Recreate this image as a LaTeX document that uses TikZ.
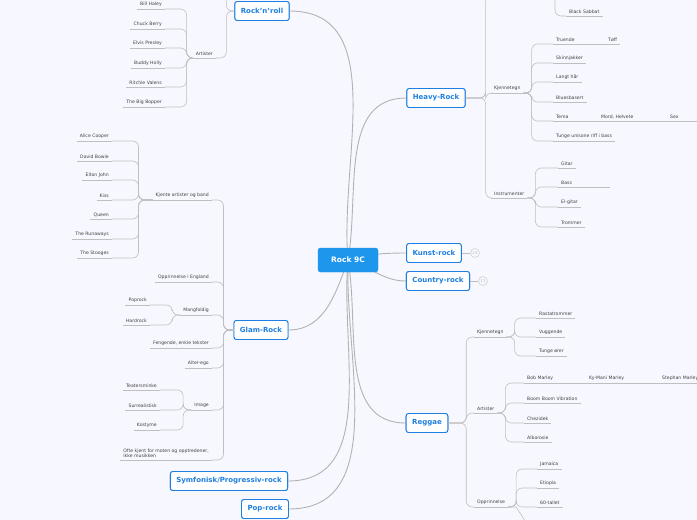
\documentclass[tikz,border=0pt]{standalone}
\usepackage{fontspec}
\setmainfont{DejaVu Sans}
\definecolor{mblue}{HTML}{1E7FE0}
\definecolor{rootblue}{HTML}{1E96EC}
\begin{document}
\begin{tikzpicture}[x=1pt,y=-1pt,
  con/.style={draw=black!25,line width=0.6pt},
  ccon/.style={draw=black!30,line width=0.9pt},
  main/.style={draw=mblue,line width=0.9pt,fill=white,rounded corners=2.5pt,font=\fontsize{7}{8}\selectfont\bfseries,text=mblue,minimum height=19pt,inner xsep=6pt},
  leafR/.style={anchor=south west,font=\fontsize{4.6}{5.6}\selectfont,text=black!75,inner xsep=3pt,inner ysep=2pt,append after command={(\tikzlastnode.south west) edge[con] (\tikzlastnode.south east)}},
  leafL/.style={leafR,anchor=south east},
  bdg/.style={circle,draw=black!15,line width=0.8pt,inner sep=0.5pt,minimum size=9pt,font=\fontsize{4}{4}\selectfont,text=black!25}]
\fill[blue!3] (0,0) rectangle (697,520);
\useasboundingbox (0,0) rectangle (697,520);
\newcommand\Lc[2]{\draw[con,rounded corners=6pt] (#1.south west) -- ++(-6,0) |- (#2.south east);}
\coordinate (rootc) at (348,260);
\node[main] (rr) at (262,11) {Rock'n'roll};
\node[main] (hr) at (436,98) {Heavy-Rock};
\node[main] (kr) at (434,253) {Kunst-rock};
\node[main] (cr) at (438,281) {Country-rock};
\node[main] (rg) at (427,423) {Reggae};
\node[main] (gr) at (261,330) {Glam-Rock};
\node[main] (sp) at (229,481) {Symfonisk/Progressiv-rock};
\node[main] (pr) at (265,509) {Pop-rock};
% central connectors
\draw[ccon] (rootc) to[out=95,in=0] (rr.east);
\draw[ccon] (rootc) to[out=80,in=180] (hr.west);
\draw[ccon] (rootc) to[out=15,in=180] (kr.west);
\draw[ccon] (rootc) to[out=-15,in=180] (cr.west);
\draw[ccon] (rootc) to[out=-80,in=180] (rg.west);
\draw[ccon] (rootc) to[out=-110,in=0] (gr.east);
\draw[ccon] (rootc) to[out=-95,in=0] (sp.east);
\draw[ccon] (rootc) to[out=-92,in=0] (pr.east);
\node[main] at (262,11) {Rock'n'roll};
\node[main] at (436,98) {Heavy-Rock};
\node[main] at (434,253) {Kunst-rock};
\node[main] at (438,281) {Country-rock};
\node[main] at (427,423) {Reggae};
\node[main] at (261,330) {Glam-Rock};
\node[main] at (229,481) {Symfonisk/Progressiv-rock};
\node[main] at (265,509) {Pop-rock};
\node[draw=rootblue,fill=rootblue,rounded corners=2.5pt,minimum width=60pt,minimum height=24pt,font=\fontsize{7.5}{8}\selectfont\bfseries,text=white] (root) at (348,260) {Rock 9C};
% badges
\node[bdg] (b1) at (475,253) {24}; \draw[con] (kr.east) -- (b1);
\node[bdg] (b2) at (483,281) {11}; \draw[con] (cr.east) -- (b2);
% Rock'n'roll
\coordinate (rrup) at (218,-4);
\draw[con,rounded corners=6pt] (rr.west) -- ++(-8,0) |- (rrup);
\node[leafL] (rart) at (216,58) {Artister};
\draw[con,rounded corners=6pt] (rr.west) -- ++(-8,0) |- (rart.south east);
\node[leafL] (a1) at (165,9) {Bill Haley};
\node[leafL] (a2) at (165,29) {Chuck Berry};
\node[leafL] (a3) at (165,48) {Elvis Presley};
\node[leafL] (a4) at (165,68) {Buddy Holly};
\node[leafL] (a5) at (165,87) {Ritchie Valens};
\node[leafL] (a6) at (165,107) {The Big Bopper};
\foreach \i in {1,...,6}{\Lc{rart}{a\i}}
% Glam
\node[leafL] (g1) at (212,200) {Kjente artister og band};
\node[leafL] (g2) at (212,282) {Opprinnelse i England};
\node[leafL] (g3) at (212,315) {Mangfoldig};
\node[leafL] (g4) at (212,348) {Fengende, enkle tekster};
\node[leafL] (g5) at (212,368) {Alter-ego};
\node[leafL] (g6) at (212,410) {Image};
\node[leafL,align=left] (g7) at (212,460) {Ofte kjent for moten og opptredener,\\ ikke musikken};
\foreach \i in {1,...,7}{\draw[con,rounded corners=6pt] (gr.west) -- ++(-10,0) |- (g\i.south east);}
\node[leafL] (k1) at (112,141) {Alice Cooper};
\node[leafL] (k2) at (112,161) {David Bowie};
\node[leafL] (k3) at (112,180) {Elton John};
\node[leafL] (k4) at (112,200) {Kiss};
\node[leafL] (k5) at (112,219) {Queen};
\node[leafL] (k6) at (112,239) {The Runaways};
\node[leafL] (k7) at (112,258) {The Stooges};
\foreach \i in {1,...,7}{\draw[con,rounded corners=6pt] (g1.south west) -- ++(-14,0) |- (k\i.south east);}
\node[leafL] (m1) at (150,305) {Poprock};
\node[leafL] (m2) at (150,325) {Hardrock};
\foreach \i in {1,2}{\draw[con,rounded corners=6pt] (g3.south west) -- ++(-8,0) |- (m\i.south east);}
\node[leafL] (i1) at (160,390) {Teatersminke};
\node[leafL] (i2) at (160,410) {Surrealistisk};
\node[leafL] (i3) at (160,430) {Kostyme};
\foreach \i in {1,2,3}{\draw[con,rounded corners=6pt] (g6.south west) -- ++(-8,0) |- (i\i.south east);}
% Heavy
\coordinate (hup) at (489,-4);
\draw[con,rounded corners=6pt] (hr.east) -- ++(20,0) |- (hup);
\node[leafR] (bs) at (566,16) {Black Sabbat};
\coordinate (bsup) at (555,-4);
\draw[con,rounded corners=6pt] (bsup) |- (bs.south west);
\node[leafR] (hk) at (491,93) {Kjennetegn};
\node[leafR] (hi) at (491,198) {Instrumenter};
\foreach \n in {hk,hi}{\draw[con,rounded corners=6pt] (hr.east) -- ++(20,0) |- (\n.south west);}
\node[leafR] (t1) at (553,44) {Truende};
\node[leafR] (t1b) at (605,44) {Tøff};
\draw[con] (t1.south east) -- (t1b.south west);
\node[leafR] (t2) at (553,63) {Skinnjakker};
\node[leafR] (t3) at (553,82) {Langt hår};
\node[leafR] (t4) at (553,102) {Bluesbasert};
\node[leafR] (t5) at (553,121) {Tema};
\node[leafR] (t5b) at (598,121) {Mord, Helvete};
\node[leafR] (t5c) at (667,121) {Sex};
\draw[con] (t5.south east) -- (t5b.south west);
\draw[con] (t5b.south east) -- (t5c.south west);
\draw[con] (t5c.south east) -- (697,121);
\node[leafR] (t6) at (553,141) {Tunge unisone riff i bass};
\foreach \i in {1,...,6}{\draw[con,rounded corners=6pt] (hk.south east) -- ++(8,0) |- (t\i.south west);}
\node[leafR] (n1) at (558,168) {Gitar};
\node[leafR] (n2) at (558,187) {Bass};
\coordinate (n2e) at (610,187);
\draw[con] (n2.south east) -- (n2e);
\node[leafR] (n3) at (558,207) {El-gitar};
\node[leafR] (n4) at (558,227) {Trommer};
\foreach \i in {1,...,4}{\draw[con,rounded corners=6pt] (hi.south east) -- ++(8,0) |- (n\i.south west);}
% Reggae
\node[leafR] (rk) at (474,337) {Kjennetegn};
\node[leafR] (ra) at (474,413) {Artister};
\node[leafR] (ro) at (474,507) {Opprinnelse};
\foreach \n in {rk,ra,ro}{\draw[con,rounded corners=6pt] (rg.east) -- ++(18,0) |- (\n.south west);}
\node[leafR] (q1) at (536,318) {Rastatrommer};
\node[leafR] (q2) at (536,337) {Vuggende};
\node[leafR] (q3) at (536,356) {Tunge ører};
\foreach \i in {1,2,3}{\draw[con,rounded corners=6pt] (rk.south east) -- ++(8,0) |- (q\i.south west);}
\node[leafR] (r1) at (524,383) {Bob Marley};
\node[leafR] (r1b) at (586,383) {Ky-Mani Marley};
\node[leafR] (r1c) at (659,383) {Stephan Marley};
\draw[con] (r1.south east) -- (r1b.south west);
\draw[con] (r1b.south east) -- (r1c.south west);
\node[leafR] (r2) at (524,403) {Boom Boom Vibration};
\node[leafR] (r3) at (524,423) {Chezidek};
\node[leafR] (r4) at (524,442) {Alborosie};
\foreach \i in {1,...,4}{\draw[con,rounded corners=6pt] (ra.south east) -- ++(8,0) |- (r\i.south west);}
\node[leafR] (o1) at (537,469) {Jamaica};
\node[leafR] (o2) at (537,488) {Etiopia};
\node[leafR] (o3) at (537,507) {60-tallet};
\coordinate (o4) at (527,524);
\foreach \i in {1,2,3}{\draw[con,rounded corners=6pt] (ro.south east) -- ++(8,0) |- (o\i.south west);}
\draw[con] (ro.south east) -- ++(8,0) -- (o4);
\end{tikzpicture}
\end{document}
